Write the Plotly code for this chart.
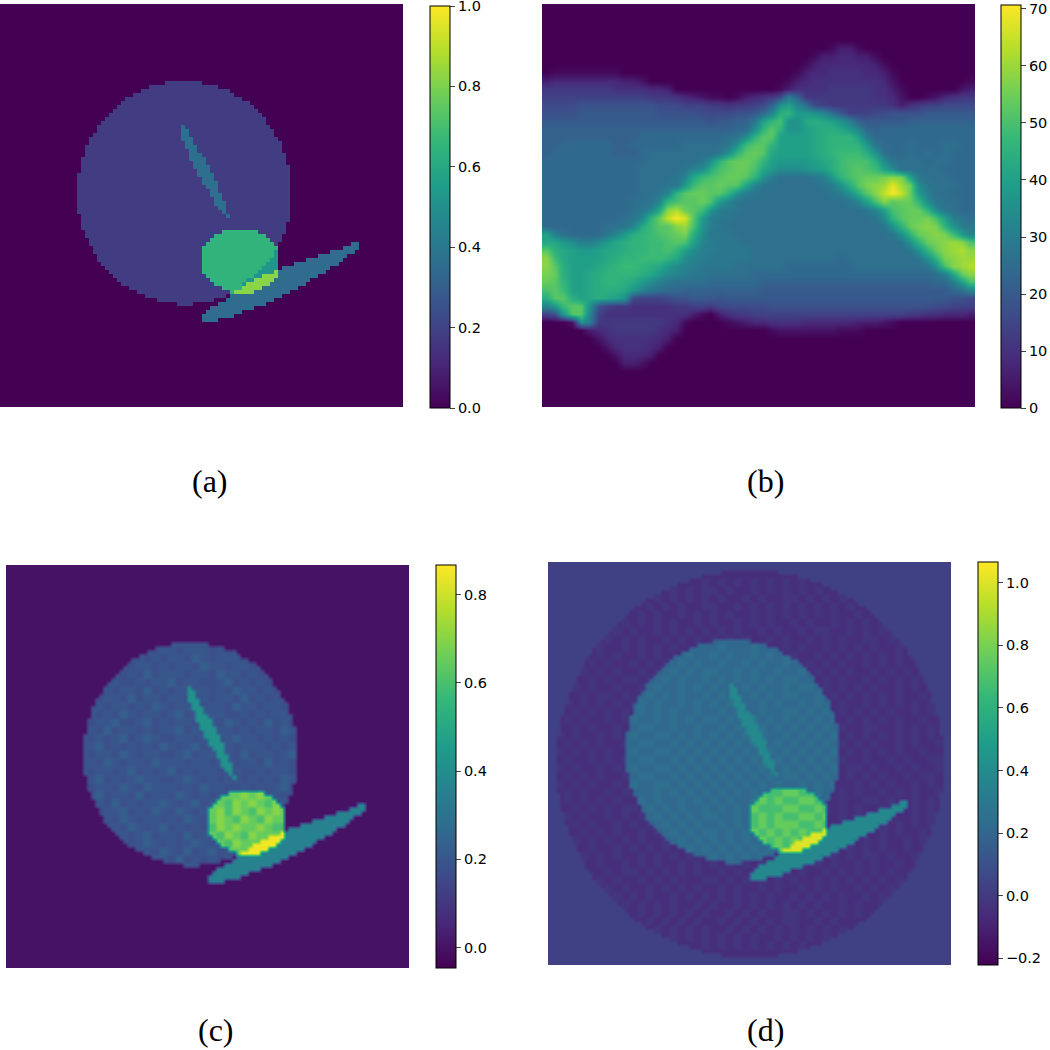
import plotly.graph_objs as go

# shapes on a 100x100 grid: row -> (first col, last col)
circle_spans = {
    19: (41, 49), 20: (37, 53), 21: (35, 56), 22: (33, 57), 23: (31, 59), 24: (30, 61),
    25: (29, 62), 26: (28, 63), 27: (27, 64), 28: (26, 65), 29: (25, 65), 30: (24, 66),
    31: (24, 67), 32: (23, 67), 33: (22, 68), 34: (22, 69), 35: (21, 69), 36: (21, 69),
    37: (21, 70), 38: (20, 70), 39: (20, 70), 40: (20, 71), 41: (20, 71), 42: (19, 71),
    43: (19, 71), 44: (19, 71), 45: (19, 71), 46: (19, 71), 47: (19, 71), 48: (19, 71),
    49: (19, 71), 50: (19, 71), 51: (19, 71), 52: (20, 71), 53: (20, 71), 54: (20, 70),
    55: (20, 70), 56: (21, 70), 57: (21, 69), 58: (22, 69), 59: (22, 68), 60: (23, 68),
    61: (23, 67), 62: (24, 67), 63: (24, 66), 64: (25, 65), 65: (26, 64), 66: (27, 63),
    67: (28, 62), 68: (29, 61), 69: (30, 60), 70: (32, 58), 71: (34, 57), 72: (36, 55),
    73: (39, 52), 74: (44, 47),
}
thin_spans = {
    30: (45, 45), 31: (45, 46), 32: (45, 46), 33: (45, 47), 34: (46, 47), 35: (46, 48),
    36: (47, 48), 37: (47, 49), 38: (47, 50), 39: (48, 50), 40: (48, 51), 41: (49, 51),
    42: (49, 52), 43: (50, 52), 44: (50, 53), 45: (51, 53), 46: (52, 53), 47: (52, 54),
    48: (53, 54), 49: (53, 55), 50: (54, 55), 51: (55, 55), 52: (56, 56),
}
band_spans = {
    59: (87, 88), 60: (85, 88), 61: (82, 87), 62: (79, 85), 63: (76, 84), 64: (73, 83),
    65: (70, 81), 66: (68, 80), 67: (66, 78), 68: (64, 76), 69: (62, 75), 70: (60, 73),
    71: (59, 71), 72: (57, 69), 73: (56, 67), 74: (54, 65), 75: (52, 62), 76: (51, 59),
    77: (50, 57), 78: (50, 53),
}
blob_spans = {
    56: (55, 63), 57: (53, 65), 58: (52, 66), 59: (51, 67), 60: (50, 68), 61: (50, 68),
    62: (50, 68), 63: (50, 68), 64: (50, 68), 65: (50, 68), 66: (50, 68), 67: (51, 68),
    68: (52, 67), 69: (53, 66), 70: (55, 64), 71: (57, 62),
}
strip_spans = {
    61: (68, 68), 62: (68, 68), 63: (67, 68), 64: (66, 68), 65: (65, 68), 66: (64, 67),
    67: (63, 64), 68: (61, 62), 69: (60, 60),
}
crescent_spans = {
    66: (68, 68), 67: (65, 68), 68: (63, 67), 69: (61, 66), 70: (60, 64), 71: (58, 62),
}
# faint outer disc of panel (d): first col for rows 2..49, the lower half mirrors it
ring_starts = [
    43, 38, 35, 32, 30, 28, 26, 24, 23, 21, 20, 19, 18, 17, 16, 15, 14, 13, 12, 11, 11, 10,
    9, 9, 8, 8, 7, 7, 6, 6, 5, 5, 5, 4, 4, 4, 3, 3, 3, 3, 3, 2, 2, 2, 2, 2, 2, 2,
]

phantom_levels = {"outside": 0.0, "bg": 0.0, "circle": 0.18, "thin": 0.36, "band": 0.35,
                  "blob": 0.65, "strip": 0.52, "crescent": 0.82}

# sinogram, 50x50, character = value / 2 in base 36
sinogram_rows = [
    "", "", "", "", "",
    "0000000000 0000000000 0000000000 0001331000",
    "0000000000 0000000000 0000000000 0133443310",
    "0000000000 0000000000 0000000000 1344444431",
    "0111111110 0000000000 0000000001 3445555443 1000000000",
    "3444444443 3200000000 0000000013 4555555554 2000000001",
    "6666666655 5544300000 0000000135 5556666655 3100000023",
    "7777777777 7766654321 10134568fb 6666666655 4200124566",
    "8888999999 9998887776 656678bikg d876666666 5356778888",
    "9999aaaaaa aaa9999988 8899acgmnj jigda77788 9999aaaaaa",
    "aaaaaaaaaa aaaaaaaaa9 aabbeknpii lmlkifbaaa aabbbbbbbb",
    "bbbbbbbbbb bbbbbbbbbb bbcchnqnii klmmljgcbc cccccccccc",
    "bbbbbbbbbb bccccccccc cdehnqqkkk klmnnnkfcc cccccccccc",
    "bbccccccbb ccccccdddd deioqqnkkk klmnnnnjec ccdcccddcc",
    "bcccccccbb bcdddddddd einqrqlkkk klmnooomid ccdcdcdccc",
    "cccccccccc ccddddddei nqrrqnkjjj jklmopppmh edddcddccc",
    "cccccccccc cdddddeghm pqrrpljhhh ijkmopqpok hdddddcccc",
    "cccccccccc cddddeglop qrrqnifddd defjnpqrrs tskedddccc",
    "cccccccccc cdddeejoqq rqqlgedddd ddefimqstu yurhedddcc",
    "cccccccccc cddegnqrrq qnifeddddd dddefimqtw zwrjfddccc",
    "cccccccccc ddegnpqqrp jgeddddddd dddddegkpt qrrnheddcc",
    "cccccccccc degltvrqoi feeddddddd dddddddegk pqrrnhedcc",
    "cccccccccd egnrwzxqjf eedddddddd ddddddddeh nqrrspkfed",
    "cccccccdde gloqqtupif eddddddddd ddddddddde inrstsnife",
    "kfdccccegj mnopqrsmhe eedddddddd dddddddddd einrstsojg",
    "lljhffhjlm nnoopqpkgf eeeddddddd dddddddddd deinrstutp",
    "qmlkjjkllm nnoopnkhff eeeedddddd dddddddddd ddeinrtuvt",
    "tolkkkklmn nooonlhgfe eeeedddddd ddddcddddd dddeinstuu",
    "tqmkkklmno onmljhgfee eeddddddcc ccccccdddd ddddeiptuv",
    "srmkklmnnn nmljhgfeed ddddcccccc cccccccccc cccccdflrt",
    "rqnkklmnnm ljhfeddddc cccccbbbbb bbbbbbbbbb bbbbbccfkp",
    "pqokklmmml jgedccbbbb bbbbbaaaaa aaaaaaaaaa aaaaaaacdg",
    "mqqmklmlki 8777899aaa 9aaaaaaaaa aaaaaaaaaa aaaaaaa998",
    "gjoqqi9766 5555566776 8888889999 9999999999 9999988777",
    "79jqqg7555 5555555310 3566777777 7777777777 7766554443",
    "0002if6666 6666541000 0123445555 4444443332 1000000000",
    "0000034566 6665430000 0000001222 2222111000",
    "0000002455 5554300000",
    "0000000245 5543000000",
    "0000000024 4430000000",
    "0000000003 3200000000",
]

# mottling of panels (c) and (d), read per 2x2 block of the finer grid
fbp_levels = {"0": 0.0, "1": 0.18, "2": 0.2, "3": 0.23, "4": 0.36, "5": 0.42,
              "6": 0.6, "7": 0.65, "8": 0.7, "9": 0.85}
fbp_regions = {"outside": ("0", "0"), "bg": ("0", "0"), "circle": ("123", "2"), "thin": ("5", "5"),
               "band": ("4", "4"), "blob": ("678", "7"), "strip": ("678", "7"), "crescent": ("9", "9")}
fbp_rows = [
    "", "", "", "", "", "", "", "", "", "",
    "0000000000 0000000012 2122212100",
    "0000000000 0000002121 2213212221",
    "0000000000 0000012212 1221322122 1000000000",
    "0000000000 0000121312 2212213221 2100000000",
    "0000000000 0002112122 3122112312 1210000000",
    "0000000000 0021221312 1252212132 2121000000",
    "0000000000 0122131221 2215212213 1212000000",
    "0000000000 0212212132 1225122132 2122100000",
    "0000000000 2121321221 2312522112 1212200000",
    "0000000000 1223112312 1221521321 2131210000",
    "0000000000 2131221212 2312152212 1221320000",
    "0000000000 1212312321 1221251232 2121210000",
    "0000000000 2312121213 2123125212 2212120000",
    "0000000000 1221321221 1231225213 1221230000",
    "0000000000 2132122132 2212212512 2131210000",
    "0000000000 1221231212 3121221521 1212210000",
    "0000000000 2312123221 1232121251 2121320000",
    "0000000000 1221321322 2121322112 1212310000",
    "0000000000 0312213122 1321212778 7822100000",
    "0000000000 0213121223 2123127687 8768200000",
    "0000000000 0122312132 1321278687 6878000000 0044000000",
    "0000000000 0021321221 2132178768 7687700004 4440000000",
    "0000000000 0002132123 1212168787 7876604444 4000000000",
    "0000000000 0000212312 2131276876 8779844444",
    "0000000000 0000012321 2123217687 7998444400",
    "0000000000 0000000213 2131231279 9844440000",
    "0000000000 0000000002 1312121044 4444000000",
    "0000000000 0000000000 0000000444 4000000000",
    "0000000000 0000000000 0000044400",
]

iterative_levels = {"0": -0.12, "1": -0.05, "2": -0.02, "3": 0.03, "4": 0.21, "5": 0.25,
                    "6": 0.38, "7": 0.68, "8": 0.76, "9": 1.0}
iterative_regions = {"outside": ("3", "3"), "bg": ("12", "1"), "circle": ("45", "4"), "thin": ("6", "6"),
                     "band": ("6", "6"), "blob": ("78", "7"), "strip": ("78", "7"), "crescent": ("9", "9")}
iterative_rows = [
    "3333333333 3333333333 3333333333 3333333333 3333333333",
    "3333333333 3333333333 3333333333 3333333333 3333333333",
    "3333333333 3333333312 1212121212 1233333333 3333333333",
    "3333333333 3333321212 2121121212 1212133333 3333333333",
    "3333333333 3332121212 1211212112 2121212333 3333333333",
    "3333333333 3321212112 2112121212 1212121233 3333333333",
    "3333333333 1212112121 2121121212 1212121121 3333333333",
    "3333333332 1212121121 2112121211 2121121212 1333333333",
    "3333333321 2112121212 1212112121 1212211212 1233333333",
    "3333333212 1211212121 2121211212 1121212112 2123333333",
    "3333332112 1212121144 4544454412 1211212121 2112333333",
    "3333332121 1212114544 5454454545 2112121212 1212333333",
    "3333321211 2121245454 4544545445 4121212112 1212133333",
    "3333212121 1212454545 5445454454 4512121211 2121213333",
    "3333121212 2124545445 4545454545 5441212112 1212123333",
    "3332121121 1245445454 5464545445 4554212121 2112121333",
    "3331212212 1454545445 4546454545 5445121212 1212112333",
    "3321212121 2545445454 5456445454 4545412112 1212121233",
    "3312121212 4545454454 4545645445 5454512121 2121121233",
    "3321211212 5445454545 5454654545 4545451212 1212112133",
    "3312121121 4554454454 4545465454 5454542112 2112121233",
    "3212112121 5445545454 5454565445 4545451212 1212121213",
    "3121212112 4554454545 4545456454 5454542121 2112121123",
    "3212121211 5445545454 5454546545 4545451212 1212112113",
    "3121121212 4554454545 4545454654 5454542112 1121211223",
    "3212112121 5445545454 5454545645 4545451221 2112121123",
    "3121212112 4554454545 4545454565 5454541212 1211212213",
    "3212121121 5445545454 5454545454 4545451121 2121121213",
    "3121211212 2445454545 4545454778 8745412121 1212121123",
    "3321212121 1545445454 5454458787 7887412112 2121121233",
    "3312121212 2454545445 4545487978 8778212121 1266121233",
    "3321211212 1245454545 5445478787 7887812126 6661121233",
    "3312121121 2124545454 4545478788 8778716666 6212121233",
    "3331212121 1212454545 5454587878 7879966666 1212112333",
    "3332121212 1211245454 5454548787 8999666612 1211212333",
    "3333121121 2121214545 4545454589 9966661212 1211213333",
    "3333212121 1212121214 5454545166 6666121212 2121123333",
    "3333312112 1212112121 2121212666 6212121121 2112133333",
    "3333331212 2121212121 1212166612 1211212121 2121333333",
    "3333332121 1212121112 2121212121 2112121212 1212333333",
    "3333333212 1121212121 1212112121 1212121121 2123333333",
    "3333333321 2121121212 1212121211 2121212112 1233333333",
    "3333333332 1212121121 2112121212 1212112121 1333333333",
    "3333333333 1212121212 1121212112 2121212121 3333333333",
    "3333333333 3321212121 1212121212 2112121133 3333333333",
    "3333333333 3332121212 1121212121 2121212333 3333333333",
    "3333333333 3333321212 1212121121 2121233333 3333333333",
    "3333333333 3333333312 1212121212 1233333333 3333333333",
    "3333333333 3333333333 3333333333 3333333333 3333333333",
    "3333333333 3333333333 3333333333 3333333333 3333333333",
]

panel_labels = ["(a)", "(b)", "(c)", "(d)"]
z_ranges = [(0, 1), (0, 70.7), (-0.046, 0.867), (-0.221, 1.066)]
tick_values = [
    [0, 0.2, 0.4, 0.6, 0.8, 1.0],
    [0, 10, 20, 30, 40, 50, 60, 70],
    [0, 0.2, 0.4, 0.6, 0.8],
    [-0.2, 0, 0.2, 0.4, 0.6, 0.8, 1.0],
]
tick_formats = [".1f", "d", ".1f", ".1f"]

W = 1050
# pixel boxes: left, right, top, bottom
image_boxes = [(0, 403, 4, 407), (542, 975, 4, 407), (6, 409, 565, 968), (548, 951, 562, 965)]
bar_boxes = [(430, 6, 408), (1001, 5, 408), (435.5, 565, 968), (977.5, 562, 965)]
label_centers = [(210, 481), (765, 481), (216, 1030), (765, 1030)]


def to_cells(rows, fill="0"):
    cells = [row.replace(" ", "").ljust(50, fill)[:50] for row in rows]
    while len(cells) < 50:
        cells.append(fill * 50)
    return cells


# regions of the phantom on the 100x100 grid, later shapes paint over earlier ones
regions = [["outside"] * 100 for _ in range(100)]
for i, start in enumerate(ring_starts + ring_starts[::-1]):
    for col in range(start, 100 - start):
        regions[i + 2][col] = "bg"
shapes = [("circle", circle_spans), ("thin", thin_spans), ("band", band_spans),
          ("blob", blob_spans), ("strip", strip_spans), ("crescent", crescent_spans)]
for name, spans in shapes:
    for row, (first, last) in spans.items():
        for col in range(first, last + 1):
            regions[row][col] = name


def textured(rows, levels, allowed, fill="0"):
    # keep the digit read for that block if it fits the region, else the region's usual level
    cells = to_cells(rows, fill)
    grid = []
    for r in range(100):
        line = []
        for c in range(100):
            digits, default = allowed[regions[r][c]]
            digit = cells[r // 2][c // 2]
            line.append(levels[digit if digit in digits else default])
        grid.append(line)
    return grid


sinogram_chars = "0123456789abcdefghijklmnopqrstuvwxyz"
sinogram_levels = {c: i * 2 for i, c in enumerate(sinogram_chars)}

grids = [
    [[phantom_levels[name] for name in line] for line in regions],
    [[sinogram_levels[c] for c in line] for line in to_cells(sinogram_rows)],
    textured(fbp_rows, fbp_levels, fbp_regions),
    textured(iterative_rows, iterative_levels, iterative_regions, "3"),
]

fig = go.Figure()
layout_axes = {}
for i in range(4):
    left, right, top, bottom = image_boxes[i]
    bar_left, bar_top, bar_bottom = bar_boxes[i]
    suffix = "" if i == 0 else str(i + 1)
    n = len(grids[i])
    fig.add_trace(go.Heatmap(
        z=grids[i],
        xaxis="x" + suffix,
        yaxis="y" + suffix,
        colorscale="Viridis",
        zmin=z_ranges[i][0],
        zmax=z_ranges[i][1],
        zsmooth=False if i == 0 else "best",
        hoverinfo="skip",
        colorbar=dict(
            x=bar_left / W,
            xanchor="left",
            xpad=0,
            y=1 - (bar_top + bar_bottom) / 2 / W,
            yanchor="middle",
            ypad=0,
            len=bar_bottom - bar_top,
            lenmode="pixels",
            thickness=20,
            thicknessmode="pixels",
            outlinecolor="black",
            outlinewidth=1,
            ticks="outside",
            ticklen=5,
            tickwidth=1,
            tickvals=tick_values[i],
            tickformat=tick_formats[i],
            ticklabeloverflow="allow",
            tickfont=dict(family="DejaVu Sans", size=14.5, color="black"),
        ),
    ))
    layout_axes["xaxis" + suffix] = dict(
        domain=[left / W, right / W], range=[-0.5, n - 0.5], visible=False,
        anchor="y" + suffix,
    )
    layout_axes["yaxis" + suffix] = dict(
        domain=[1 - bottom / W, 1 - top / W], range=[n - 0.5, -0.5], visible=False,
        anchor="x" + suffix,
    )

annotations = []
for text, (cx, cy) in zip(panel_labels, label_centers):
    annotations.append(dict(
        text=text, x=cx / W, y=1 - cy / W, xref="paper", yref="paper",
        showarrow=False, xanchor="center", yanchor="middle",
        font=dict(family="Liberation Serif", size=32, color="black"),
    ))

fig.update_layout(
    width=W,
    height=W,
    margin=dict(l=0, r=0, t=0, b=0),
    paper_bgcolor="white",
    plot_bgcolor="white",
    annotations=annotations,
    **layout_axes,
)

fig.write_html("out.html", config={"displayModeBar": False},
               post_script="document.body.style.margin='0';")
